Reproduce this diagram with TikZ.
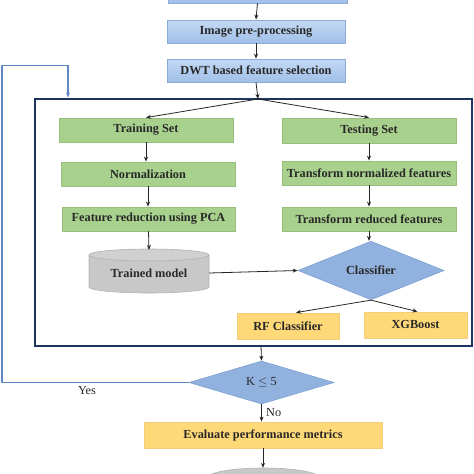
\documentclass[tikz,border=0pt]{standalone}
\usepackage{fontspec}
\setmainfont{Liberation Serif}
\usetikzlibrary{shapes.geometric,arrows.meta,calc}
\definecolor{bluefill}{RGB}{160,192,232}
\definecolor{bluetop}{RGB}{196,216,243}
\definecolor{blueedge}{RGB}{140,170,212}
\definecolor{greenfill}{RGB}{169,209,142}
\definecolor{greenedge}{RGB}{150,192,122}
\definecolor{orangefill}{RGB}{255,216,120}
\definecolor{orangeedge}{RGB}{246,204,120}
\definecolor{grayfill}{RGB}{200,200,200}
\definecolor{grayedge}{RGB}{178,178,178}
\definecolor{diafill}{RGB}{145,178,222}
\definecolor{diaedge}{RGB}{125,160,210}
\definecolor{navy}{RGB}{30,52,96}
\definecolor{loopblue}{RGB}{95,135,195}
\definecolor{txt}{RGB}{40,40,40}
\tikzset{
  x=1pt,y=-1pt,
  every node/.style={font=\fontsize{12.3}{14}\selectfont\bfseries, text=txt},
  plain/.style={font=\fontsize{12.3}{14}\selectfont},
  bluebox/.style={rectangle, draw=blueedge, top color=bluetop, bottom color=bluefill, line width=0.8pt, inner sep=0pt},
  greenbox/.style={rectangle, draw=greenedge, fill=greenfill, line width=0.8pt, inner sep=0pt},
  orangebox/.style={rectangle, draw=orangeedge, fill=orangefill, line width=0.8pt, inner sep=0pt},
  decision/.style={diamond, draw=diaedge, fill=diafill, line width=0.6pt, inner sep=0pt},
  arr/.style={-{Stealth[length=5pt,width=4pt]}, line width=0.8pt, draw=black!85},
}
\begin{document}
\begin{tikzpicture}
\useasboundingbox (0,0) rectangle (474,474);
\clip (0,0) rectangle (474,474);
% top blue boxes
\node[bluebox, minimum width=179, minimum height=26] (top) at (257.5,-10) {};
\node[bluebox, minimum width=178, minimum height=23] (pre) at (256,31.5) {Image pre-processing};
\node[bluebox, minimum width=178, minimum height=23] (dwt) at (256,70.5) {DWT based feature selection};
% outer frame
\node[rectangle, draw=navy, line width=2.5pt, minimum width=437, minimum height=247, inner sep=0pt] (frame) at (253.5,222.5) {};
\coordinate (jn) at (258,99);
\coordinate (fb) at (261,346);
% left column
\node[greenbox, minimum width=174, minimum height=24] (train) at (146,130) {Training Set};
\node[greenbox, minimum width=174, minimum height=24] (norm) at (148,174) {Normalization};
\node[greenbox, minimum width=173, minimum height=24] (pca) at (148.5,219) {Feature reduction using PCA};
% right column
\node[greenbox, minimum width=174, minimum height=25] (test) at (369,130.5) {Testing Set};
\node[greenbox, minimum width=174, minimum height=24] (tnorm) at (369,173) {Transform normalized features};
\node[greenbox, minimum width=174, minimum height=24] (tred) at (369,219) {Transform reduced features};
% cylinder trained model
\fill[grayfill] (89,255) -- (89,287) arc[start angle=180, end angle=360, x radius=60, y radius=-6] -- (209,255) arc[start angle=0, end angle=180, x radius=60, y radius=-6] -- cycle;
\draw[grayedge, line width=0.6pt] (89,255) -- (89,287) arc[start angle=180, end angle=360, x radius=60, y radius=-6] -- (209,255);
\fill[grayfill!85!white] (149,255) ellipse[x radius=60, y radius=6];
\draw[grayedge, line width=0.6pt] (149,255) ellipse[x radius=60, y radius=6];
\node[minimum width=120, minimum height=38, inner sep=0pt] (tm) at (149,273) {Trained model};
% classifier
\node[decision, minimum width=146, minimum height=43] (cls) at (371,270.5) {Classifier};
\node[orangebox, minimum width=102, minimum height=26] (rf) at (288,326) {RF Classifier};
\node[orangebox, minimum width=103, minimum height=26] (xgb) at (415.5,325) {\raisebox{2pt}{XGBoost}};
% decision K
\node[decision, minimum width=145, minimum height=43, plain] (k) at (261.5,382.5) {K $\leq$ 5};
\node[orangebox, minimum width=238, minimum height=26] (eval) at (263,435) {Evaluate performance metrics};
% bottom cylinder (partial)
\fill[grayfill] (263.5,478) ellipse[x radius=56.5, y radius=10];
\draw[grayedge, line width=0.6pt] (263.5,478) ellipse[x radius=56.5, y radius=10];
\node[minimum width=113, minimum height=10, inner sep=0pt] (end) at (263.5,473) {};
% arrows
\draw[arr] (top.south) -- (pre.north);
\draw[arr] (pre.south) -- (dwt.north);
\draw[arr] (dwt.south) -- (jn);
\draw[arr] (jn) -- (train.north);
\draw[arr] (jn) -- (test.north);
\draw[arr] (train.south) -- (train.south |- norm.north);
\draw[arr] (norm.south) -- (norm.south |- pca.north);
\draw[arr] (pca.south) -- (149,250);
\draw[arr] (test.south) -- (test.south |- tnorm.north);
\draw[arr] (tnorm.south) -- (tnorm.south |- tred.north);
\draw[arr] (tred.south) -- (cls.north -| tred.south);
\draw[arr] (tm.east) -- (cls.west);
\draw[arr] (cls.south) -- ($(rf.north)+(8,0)$);
\draw[arr] (cls.south) -- ($(xgb.north)+(2,0)$);
\draw[arr] (fb) -- (k.north);
\draw[arr] (k.south) -- (eval.north -| k.south) node[pos=0.45, right=1pt, plain] (no) {No};
\draw[arr] (eval.south) -- (end.north -| eval.south);
% feedback loop
\draw[-{Stealth[length=5pt,width=4pt]}, draw=loopblue, line width=1.3pt] (k.west) -- (2,382.5) -- (2,65.5) -- (68,65.5) -- (68,97.5);
\node[plain] (yes) at (87,391) {Yes};
\end{tikzpicture}
\end{document}
